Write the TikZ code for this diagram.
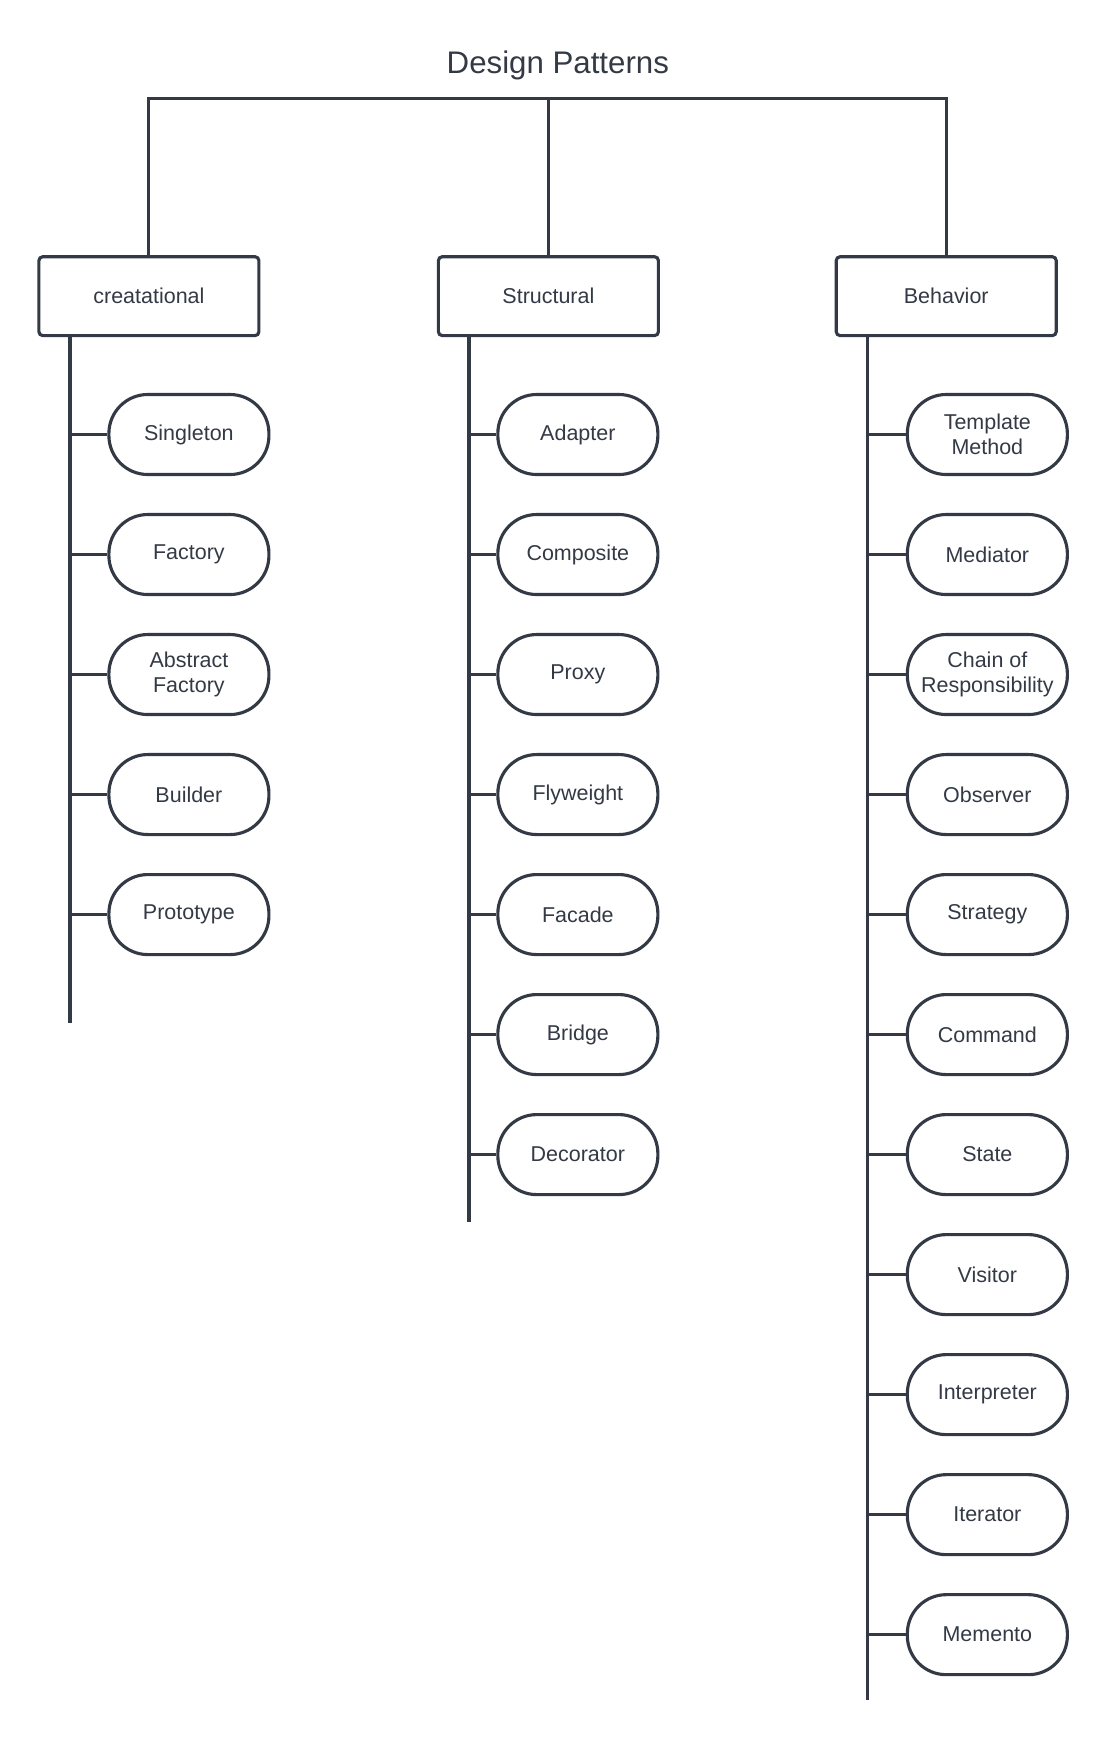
\documentclass[tikz,border=0pt]{standalone}
\usepackage{fontspec}
\setmainfont{Liberation Sans}
\definecolor{ln}{HTML}{333A45}
\begin{document}
\begin{tikzpicture}[x=0.02cm,y=-0.02cm,
  line/.style={draw=ln,line width=1.6pt},
  cat/.style={line,minimum width=198*0.02cm,minimum height=71*0.02cm,rounded corners=2pt,font=\fontsize{11}{13}\selectfont,text=ln},
  pill/.style={line,minimum width=144*0.02cm,minimum height=72*0.02cm,rounded corners=0.7cm,font=\fontsize{11}{13}\selectfont,text=ln,align=center}]
\useasboundingbox (0,0) rectangle (1000,1573);
\node[font=\fontsize{16}{19}\selectfont,text=ln] (title) at (502,59) {Design Patterns};
\node[cat] (c) at (134,266.5) {creatational};
\node[cat] (s) at (493.5,266.5) {Structural};
\node[cat] (b) at (851.5,266.5) {Behavior};
\coordinate (tl) at (134,89); \coordinate (tm) at (493.5,89); \coordinate (tr) at (851.5,89);
\draw[line] (c.north) -- (tl) -- (tr) -- (b.north);
\draw[line] (tm) -- (s.north);
\coordinate (ce) at (63,921); \coordinate (se) at (422,1100); \coordinate (be) at (781,1530);
\draw[line] (c.south -| ce) -- (ce);
\draw[line] (s.south -| se) -- (se);
\draw[line] (b.south -| be) -- (be);
\foreach \t [count=\i] in {Singleton,Factory,{Abstract\\Factory},Builder,Prototype}{
  \node[pill] (c\i) at (170,{391+108*(\i-1)}) {\t};
  \draw[line] (c\i.west) -- (c\i.west -| ce);
}
\foreach \t [count=\i] in {Adapter,Composite,Proxy,Flyweight,Facade,Bridge,Decorator}{
  \node[pill] (s\i) at (520,{391+108*(\i-1)}) {\t};
  \draw[line] (s\i.west) -- (s\i.west -| se);
}
\foreach \t [count=\i] in {{Template\\Method},Mediator,{Chain of\\Responsibility},Observer,Strategy,Command,State,Visitor,Interpreter,Iterator,Memento}{
  \node[pill] (b\i) at (888.5,{391+108*(\i-1)}) {\t};
  \draw[line] (b\i.west) -- (b\i.west -| be);
}
\end{tikzpicture}
\end{document}
